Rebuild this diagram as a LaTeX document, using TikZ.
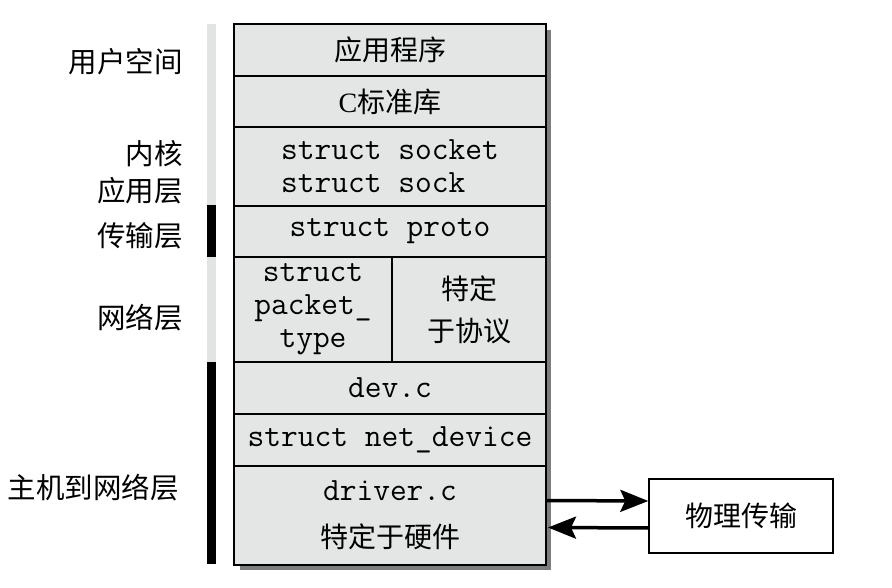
\documentclass[tikz,border=0pt]{standalone}
\usepackage{fontspec}
\setmainfont{Liberation Serif}
\newfontfamily\cjk{Noto Sans CJK SC}
\usetikzlibrary{arrows.meta}
\definecolor{stackgray}{RGB}{228,230,230}
\definecolor{bargray}{RGB}{226,228,228}
\definecolor{shadowgray}{RGB}{125,125,125}

\begin{document}
\begin{tikzpicture}[x=1pt,y=-1pt,
  layer/.style={draw,fill=stackgray,line width=1.6pt,anchor=north west,
    inner sep=0pt,outer sep=0pt,minimum width=312pt,align=center,
    font=\fontsize{32.5}{33}\selectfont},
  side/.style={anchor=east,align=right,inner sep=0pt,
    font=\cjk\fontsize{28.5}{37}\selectfont},
  flow/.style={line width=3.5pt,-{Stealth[length=28pt,width=22pt,inset=5pt]}}]
\useasboundingbox (0,0) rectangle (892,588);
% Shadow behind the stack
\fill[shadowgray] (240,30) rectangle (551,570);
% Bar on the left
\fill[bargray] (207,24) rectangle (216,205);
\fill[black] (207,205) rectangle (216,257);
\fill[bargray] (207,257) rectangle (216,362);
\fill[black] (207,362) rectangle (216,564);
% The layers, from top to bottom
\node[layer,minimum height=52pt,font=\fontsize{28}{33}\selectfont] (app)
  at (234,24) {\cjk 应用程序};
\node[layer,minimum height=51pt,font=\fontsize{28}{33}\selectfont] (libc)
  at (234,76) {C{\cjk 标准库}};
\node[layer,minimum height=79pt,align=left] (sock) at (234,127)
  {\ttfamily struct socket\\\ttfamily struct sock};
\node[layer,minimum height=51pt] (proto) at (234,206) {\ttfamily struct proto};
\node[layer,minimum height=105pt,minimum width=158pt] (ptype) at (234,257)
  {\ttfamily struct\\\ttfamily packet\_\\\ttfamily type};
\node[layer,minimum height=105pt,minimum width=154pt,
  font=\cjk\fontsize{28}{42}\selectfont] (spec) at (392,257) {特定\\于协议};
\node[layer,minimum height=52pt] (dev) at (234,362) {\ttfamily dev.c};
\node[layer,minimum height=52pt] (netdev) at (234,414)
  {\ttfamily struct net\_device};
\node[layer,minimum height=99pt,font=\fontsize{32.5}{47}\selectfont] (drv)
  at (234,466) {\ttfamily driver.c\\\cjk\fontsize{28}{47}\selectfont 特定于硬件};
% Labels on the left
\node[side] (user) at (183,62) {用户空间};
\node[side] (kapp) at (183,172) {内核\\应用层};
\node[side] (trans) at (183,236) {传输层};
\node[side] (net) at (183,318) {网络层};
\node[side] (host) at (179,488) {主机到网络层};
% Physical transmission
\node[draw,line width=1.4pt,minimum width=184pt,minimum height=74pt,
  font=\cjk\fontsize{28}{33}\selectfont] (phys) at (741,516) {物理传输};
\draw[flow] ([yshift=15pt]drv.east) -- ([yshift=15pt]phys.west);
\draw[flow] ([yshift=-12pt]phys.west) -- ([yshift=-12pt,xshift=2pt]drv.east);
\end{tikzpicture}
\end{document}
